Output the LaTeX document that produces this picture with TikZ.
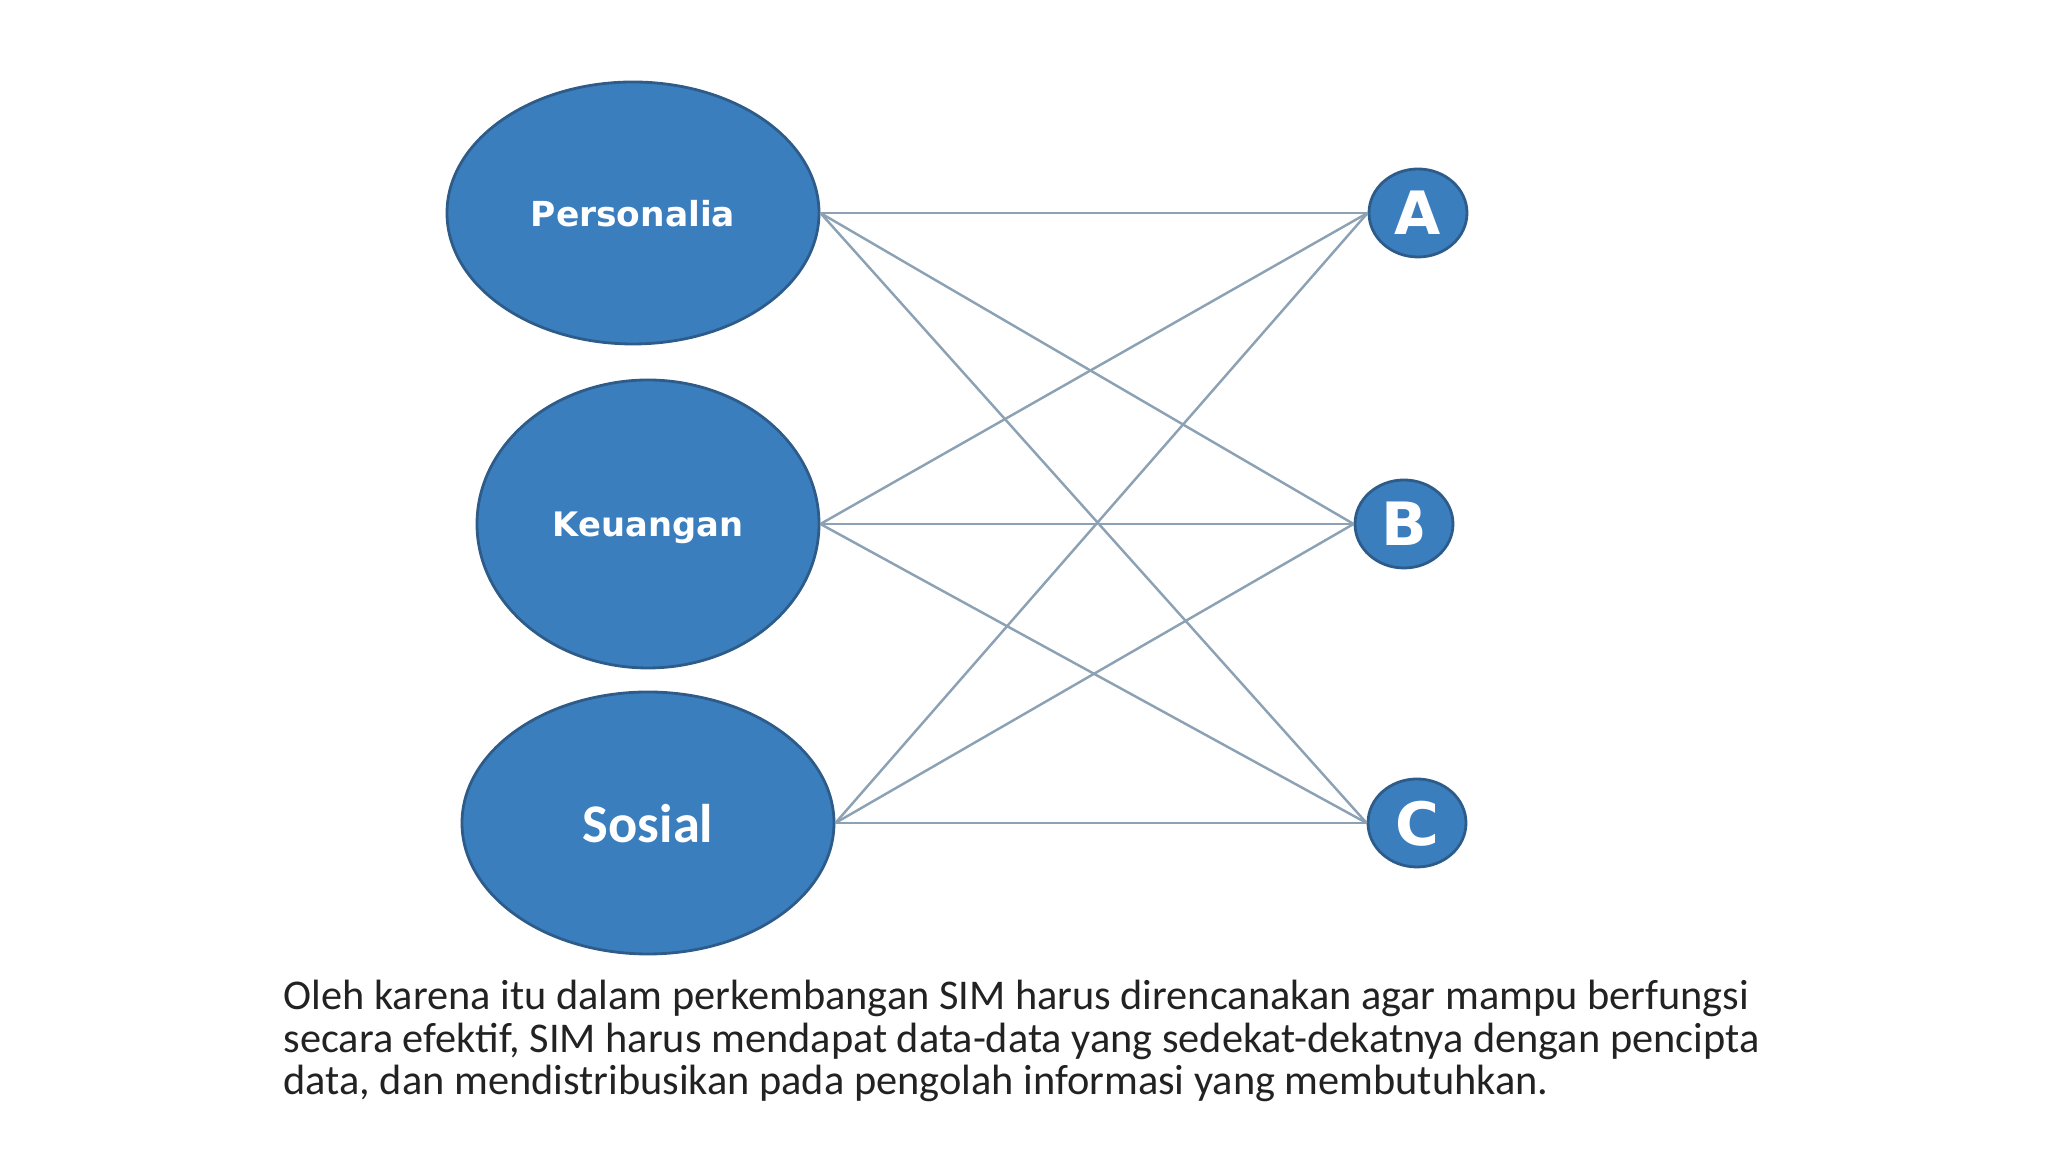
\documentclass[tikz,border=0pt]{standalone}
\usepackage{fontspec}
\setmainfont{Carlito}
\newfontfamily\boxfont{DejaVu Sans}
\usetikzlibrary{shapes.geometric}
\definecolor{unitblue}{RGB}{59,126,190}
\definecolor{unitedge}{RGB}{46,92,138}
\definecolor{linkgray}{RGB}{140,162,180}
\definecolor{captext}{RGB}{34,34,34}
\begin{document}
\begin{tikzpicture}[
    unit/.style={ellipse,fill=unitblue,draw=unitedge,line width=0.8pt,text=white,inner sep=0pt,text depth=0pt},
    user/.style={ellipse,fill=unitblue,draw=unitedge,line width=0.8pt,text=white,inner sep=0pt,text depth=0pt,
      minimum width=0.98cm,minimum height=0.88cm,font=\boxfont\bfseries\fontsize{17}{17}\selectfont},
    link/.style={linkgray,line width=0.7pt},
    captline/.style={anchor=base west,inner sep=0pt,text=captext,font=\fontsize{12.05}{14}\selectfont}
  ]
  % Frame
  \useasboundingbox (0,0) rectangle (20.48,11.52);

  % Departments
  \node[unit,minimum width=3.72cm,minimum height=2.62cm,font=\boxfont\bfseries\fontsize{9.8}{10}\selectfont] (pers) at (6.33,9.39) {Personalia};
  \node[unit,minimum width=3.42cm,minimum height=2.88cm,font=\boxfont\bfseries\fontsize{9.6}{10}\selectfont] (keu) at (6.48,6.28) {Keuangan};
  \node[unit,minimum width=3.72cm,minimum height=2.62cm,font=\bfseries\fontsize{15.5}{16}\selectfont] (sos) at (6.48,3.29) {Sosial};

  % Users
  \node[user] (A) at (14.18,9.39) {A};
  \node[user] (B) at (14.04,6.28) {B};
  \node[user] (C) at (14.17,3.29) {C};

  % Links
  \foreach \u in {pers,keu,sos}
    \foreach \v in {A,B,C}
      \draw[link] (\u.east) -- (\v.west);

  % Caption
  \node[captline] (cap1) at (2.83,1.42) {Oleh karena itu dalam perkembangan SIM harus direncanakan agar mampu berfungsi};
  \node[captline] (cap2) at (2.83,0.99) {secara efektif, SIM harus mendapat data-data yang sedekat-dekatnya dengan pencipta};
  \node[captline] (cap3) at (2.83,0.57) {data, dan mendistribusikan pada pengolah informasi yang membutuhkan.};

\end{tikzpicture}
\end{document}
